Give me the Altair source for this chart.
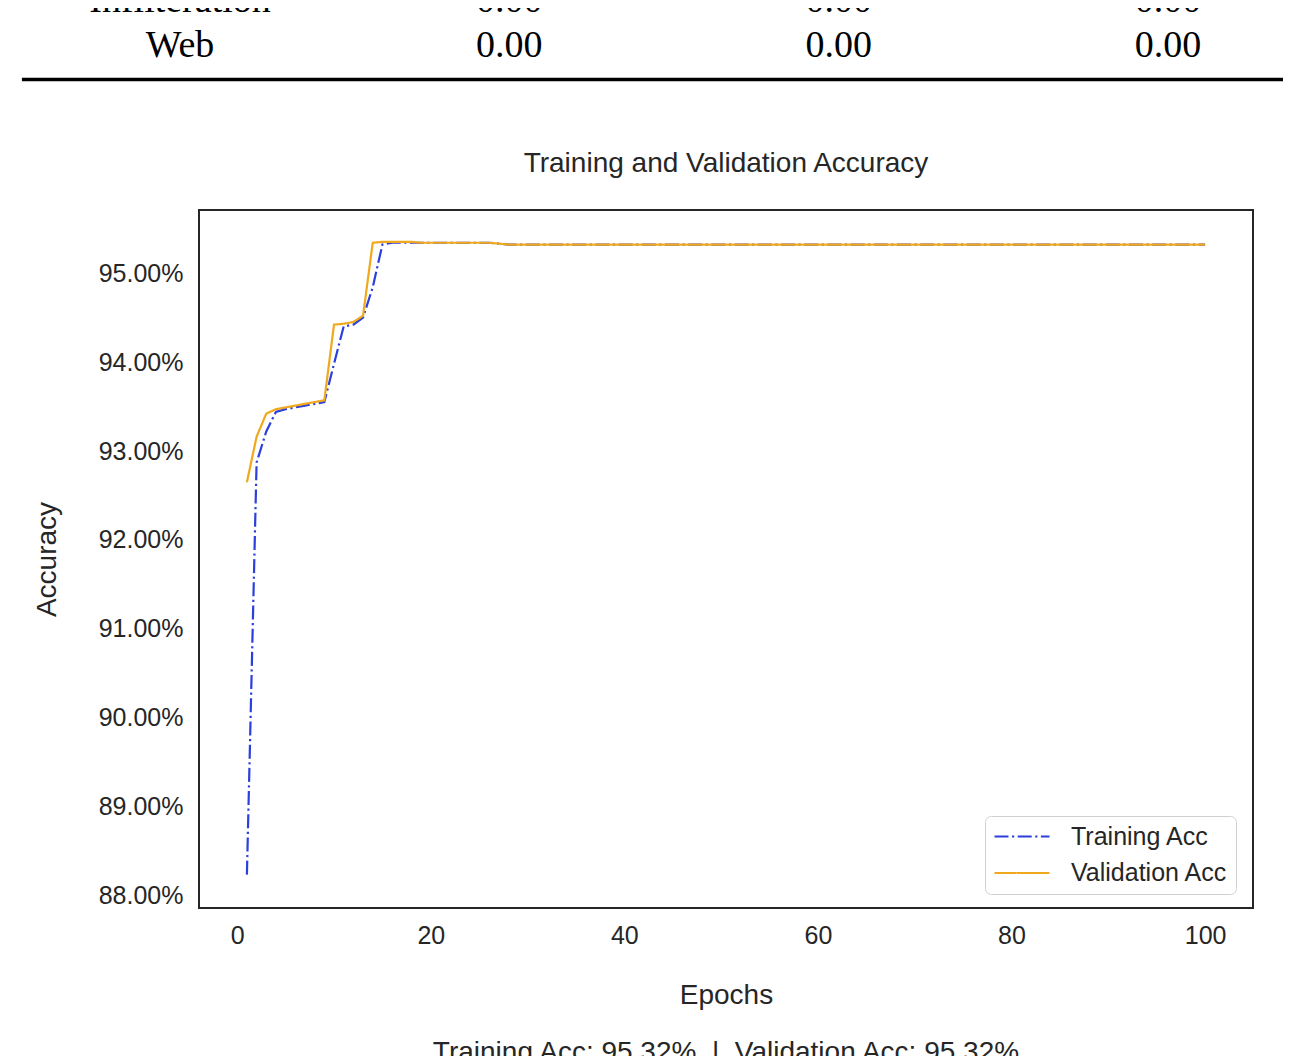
import altair as alt
import pandas as pd

# ---------------- data ----------------
epochs = list(range(1, 101))

train_acc = [
    88.24, 92.87, 93.22, 93.44, 93.47, 93.49, 93.51, 93.53, 93.55, 93.98,
    94.40, 94.42, 94.50, 94.84, 95.32, 95.34, 95.34, 95.34, 95.34, 95.34,
    95.34, 95.34, 95.34, 95.34, 95.34, 95.34, 95.33, 95.32, 95.32, 95.32,
    95.32, 95.32, 95.32, 95.32, 95.32, 95.32, 95.32, 95.32, 95.32, 95.32,
    95.32, 95.32, 95.32, 95.32, 95.32, 95.32, 95.32, 95.32, 95.32, 95.32,
    95.32, 95.32, 95.32, 95.32, 95.32, 95.32, 95.32, 95.32, 95.32, 95.32,
    95.32, 95.32, 95.32, 95.32, 95.32, 95.32, 95.32, 95.32, 95.32, 95.32,
    95.32, 95.32, 95.32, 95.32, 95.32, 95.32, 95.32, 95.32, 95.32, 95.32,
    95.32, 95.32, 95.32, 95.32, 95.32, 95.32, 95.32, 95.32, 95.32, 95.32,
    95.32, 95.32, 95.32, 95.32, 95.32, 95.32, 95.32, 95.32, 95.32, 95.32,
]

val_acc = [
    92.65, 93.16, 93.42, 93.47, 93.49, 93.51, 93.53, 93.55, 93.57, 94.42,
    94.43, 94.45, 94.52, 95.34, 95.35, 95.35, 95.35, 95.35, 95.34, 95.34,
    95.34, 95.34, 95.34, 95.34, 95.34, 95.34, 95.33, 95.32, 95.32, 95.32,
    95.32, 95.32, 95.32, 95.32, 95.32, 95.32, 95.32, 95.32, 95.32, 95.32,
    95.32, 95.32, 95.32, 95.32, 95.32, 95.32, 95.32, 95.32, 95.32, 95.32,
    95.32, 95.32, 95.32, 95.32, 95.32, 95.32, 95.32, 95.32, 95.32, 95.32,
    95.32, 95.32, 95.32, 95.32, 95.32, 95.32, 95.32, 95.32, 95.32, 95.32,
    95.32, 95.32, 95.32, 95.32, 95.32, 95.32, 95.32, 95.32, 95.32, 95.32,
    95.32, 95.32, 95.32, 95.32, 95.32, 95.32, 95.32, 95.32, 95.32, 95.32,
    95.32, 95.32, 95.32, 95.32, 95.32, 95.32, 95.32, 95.32, 95.32, 95.32,
]

series_names = ["Training Acc", "Validation Acc"]
series_colors = ["#2a3fdc", "#f0a81c"]
series_dash = [[14, 3.5, 2.2, 3.5], [1, 0]]

x_ticks = [0, 20, 40, 60, 80, 100]
y_ticks = [88, 89, 90, 91, 92, 93, 94, 95]

# fragment of the table above the figure
table_rows = ["Infilteration", "Web"]
table_col1 = ["0.00", "0.00"]
table_col2 = ["0.00", "0.00"]
table_col3 = ["0.00", "0.00"]

chart_title = "Training and Validation Accuracy"
caption = (f"Training Acc: {train_acc[-1]:.2f}%\u00a0\u00a0|\u00a0\u00a0"
           f"Validation Acc: {val_acc[-1]:.2f}%")

# ---------------- tables ----------------
df = pd.DataFrame({
    "epoch": epochs * 2,
    "acc": train_acc + val_acc,
    "series": [series_names[0]] * len(epochs) + [series_names[1]] * len(epochs),
})

cells = []
for i, r in enumerate(table_rows):
    for j, v in enumerate([r, table_col1[i], table_col2[i], table_col3[i]]):
        cells.append({"row": i, "col": j, "txt": v})
table_df = pd.DataFrame(cells)
rule_df = pd.DataFrame({"c0": [-0.48], "c1": [3.5], "row": [1.5]})
cap_df = pd.DataFrame({"txt": [caption]})
title_df = pd.DataFrame({"txt": [chart_title]})

FONT = "Liberation Sans, Arial, sans-serif"
TXT = "#262626"

xscale = alt.Scale(domain=[-3.95, 104.95], nice=False, zero=False)
yscale = alt.Scale(domain=[87.865, 95.708], nice=False, zero=False)

legend_kw = dict(
    title=None, orient="none", legendX=786, legendY=606,
    labelFont=FONT, labelFontSize=25, labelColor=TXT,
    symbolType="M-2.5,0H2.5", symbolSize=484, symbolStrokeWidth=2.2,
    symbolOffset=16.5, labelOffset=36.5, rowPadding=10.5, padding=8,
    fillColor="white", strokeColor="#d0d0d0", cornerRadius=6,
)

color = alt.Color(
    "series:N",
    scale=alt.Scale(domain=series_names, range=series_colors),
    legend=alt.Legend(**legend_kw),
)
dash = alt.StrokeDash(
    "series:N",
    scale=alt.Scale(domain=series_names, range=series_dash),
    legend=alt.Legend(**legend_kw),
)

x_enc = alt.X(
    "epoch:Q", scale=xscale,
    axis=alt.Axis(
        values=x_ticks, format="d", title="Epochs",
        labelFont=FONT, labelFontSize=25, labelColor=TXT, labelPadding=15,
        titleFont=FONT, titleFontSize=28, titleFontWeight="normal",
        titleColor=TXT, titlePadding=33,
        ticks=False, domain=False, grid=False,
    ),
)
y_enc = alt.Y(
    "acc:Q", scale=yscale,
    axis=alt.Axis(
        values=y_ticks, labelExpr="format(datum.value, '.2f') + '%'",
        title="Accuracy",
        labelFont=FONT, labelFontSize=25, labelColor=TXT, labelPadding=16,
        titleFont=FONT, titleFontSize=28, titleFontWeight="normal",
        titleColor=TXT, titlePadding=37,
        ticks=False, domain=False, grid=False,
    ),
)

base = alt.Chart(df).mark_line(strokeWidth=2.2).encode(
    x=x_enc, y=y_enc, color=color, strokeDash=dash
)
train_line = base.transform_filter(alt.datum.series == series_names[0])
val_line = base.transform_filter(alt.datum.series == series_names[1])
lines = alt.layer(train_line, val_line)

tx = alt.Scale(domain=[0, 3], range=[-19, 969], nice=False, zero=False)
ty = alt.Scale(domain=[0, 1], range=[-198, -153], nice=False, zero=False)

table_text = alt.Chart(table_df).mark_text(
    font="Liberation Serif, Times New Roman, serif", fontSize=38,
    color="black", baseline="alphabetic", align="center",
).encode(
    x=alt.X("col:Q", scale=tx, axis=None),
    y=alt.Y("row:Q", scale=ty, axis=None),
    text="txt:N",
)

table_rule = alt.Chart(rule_df).mark_rule(color="black", strokeWidth=3.5).encode(
    x=alt.X("c0:Q", scale=tx, axis=None),
    x2="c1:Q",
    y=alt.Y("row:Q", scale=ty, axis=None),
)

title_mark = alt.Chart(title_df).mark_text(
    font=FONT, fontSize=28, color=TXT, align="center", baseline="alphabetic",
).encode(x=alt.value(527), y=alt.value(-38), text="txt:N")

cap = alt.Chart(cap_df).mark_text(
    font=FONT, fontSize=28, color=TXT, align="center", baseline="alphabetic",
).encode(x=alt.value(527), y=alt.value(851), text="txt:N")

chart = alt.layer(lines, table_text, table_rule, title_mark, cap).resolve_scale(
    x="independent", y="independent"
).properties(
    width=1054, height=698,
    autosize=alt.AutoSizeParams(type="none"),
    padding={"left": 191, "top": 202, "right": 30, "bottom": 148},
).configure(
    background="white"
).configure_view(
    stroke="#262626", strokeWidth=2
)

chart.save("out.html", embed_options={"renderer": "svg", "actions": False})
